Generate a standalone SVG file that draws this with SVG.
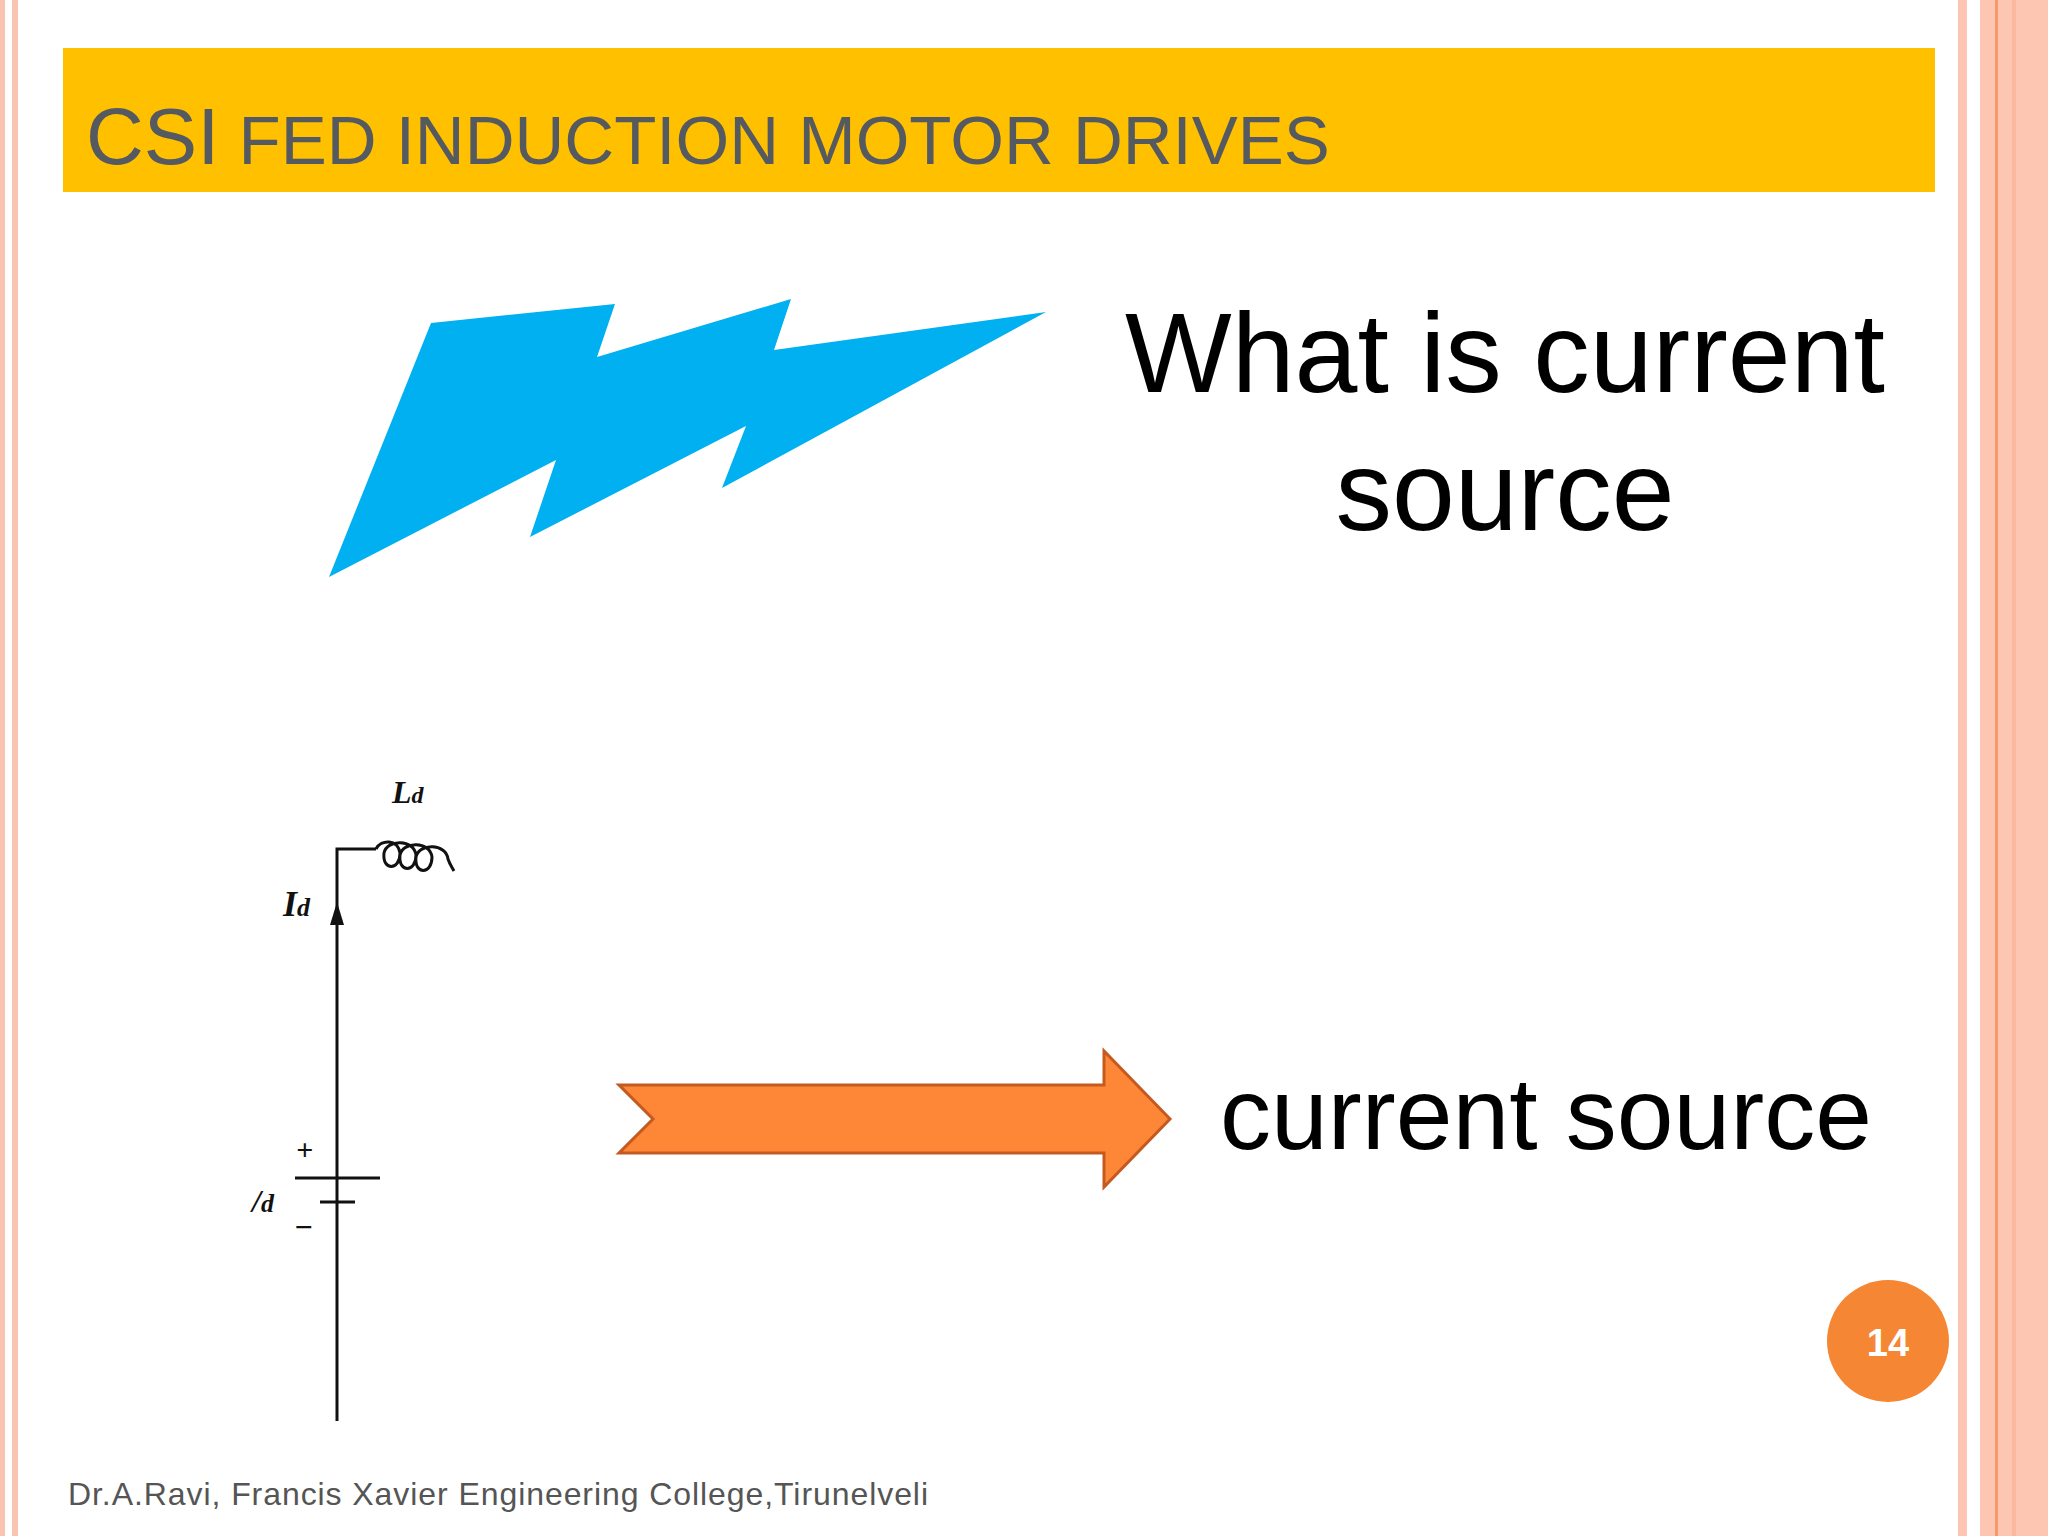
<svg xmlns="http://www.w3.org/2000/svg" width="2048" height="1536" viewBox="0 0 2048 1536">
<style>
.w{stroke:#111;stroke-width:3;fill:none}
.s{font-family:"Liberation Serif",serif;font-style:italic;font-weight:bold;fill:#111}
</style>
<rect width="2048" height="1536" fill="#fff"/>
<g id="borders">
<rect x="0" y="0" width="5" height="1536" fill="#f9c4b0"/>
<rect x="12" y="0" width="6" height="1536" fill="#f9c4b0"/>
<rect x="1958" y="0" width="9" height="1536" fill="#fcc6b2"/>
<rect x="1980" y="0" width="68" height="1536" fill="#fcc6b2"/>
<rect x="1995" y="0" width="3" height="1536" fill="#f79a6a"/>
<rect x="2012" y="0" width="4" height="1536" fill="#fbb89e"/>
</g>
<g id="title">
<rect x="63" y="48" width="1872" height="144" fill="#ffc000"/>
<text x="86" y="164" font-family="Liberation Sans,sans-serif" fill="#555a60"><tspan font-size="80">CSI</tspan><tspan font-size="69"> FED INDUCTION MOTOR DRIVES</tspan></text>
</g>
<g id="lightning">
<polygon points="431,323 615,304 597,357 791,299 774,350 1046,312 722,488 746,426 530,537 556,460 329,577" fill="#00b0f0"/>
</g>
<g id="question">
<text font-family="Liberation Sans,sans-serif" font-size="113" text-anchor="middle" fill="#000"><tspan x="1505" y="392">What is current</tspan><tspan x="1505" y="530">source</tspan></text>
</g>
<g id="circuit">
<path class="w" d="M337,1421 V849 H376"/>
<path class="w" d="M376,849 c5,-10 22,-10 24,4 c0,18 -18,18 -16,0 c3,-14 30,-14 32,2 c0,18 -18,18 -16,0 c3,-14 30,-14 32,2 c0,18 -18,18 -16,0 c3,-14 30,-14 32,2 c2,6 4,8 6,12"/>
<polygon points="337,902 330,925 344,925" fill="#111"/>
<line class="w" x1="295" y1="1178" x2="380" y2="1178"/>
<line class="w" x1="320" y1="1202" x2="355" y2="1202"/>
<text class="s" x="392" y="803" font-size="32">L<tspan font-size="24">d</tspan></text>
<text class="s" x="283" y="916" font-size="36">I<tspan font-size="26">d</tspan></text>
<text class="s" x="296" y="1160" font-size="30" font-style="normal">+</text>
<text class="s" x="252" y="1212" font-size="32">/<tspan font-size="26">d</tspan></text>
<text class="s" x="294" y="1238" font-size="32" font-style="normal">−</text>
</g>
<g id="arrow">
<polygon points="619,1085 1104,1085 1104,1051 1170,1119 1104,1187 1104,1153 619,1153 653,1119" fill="#fd8637" stroke="#c55a20" stroke-width="3"/>
</g>
<g id="answer">
<text x="1546" y="1149" font-family="Liberation Sans,sans-serif" font-size="102" text-anchor="middle" fill="#000">current source</text>
</g>
<g id="pagenum">
<circle cx="1888" cy="1341" r="61" fill="#f58634"/>
<text x="1888" y="1356" font-family="Liberation Sans,sans-serif" font-size="38" font-weight="bold" fill="#fff" text-anchor="middle">14</text>
</g>
<text x="68" y="1505" font-family="Liberation Sans,sans-serif" font-size="32" fill="#555" textLength="860">Dr.A.Ravi, Francis Xavier Engineering College,Tirunelveli</text>
</svg>
